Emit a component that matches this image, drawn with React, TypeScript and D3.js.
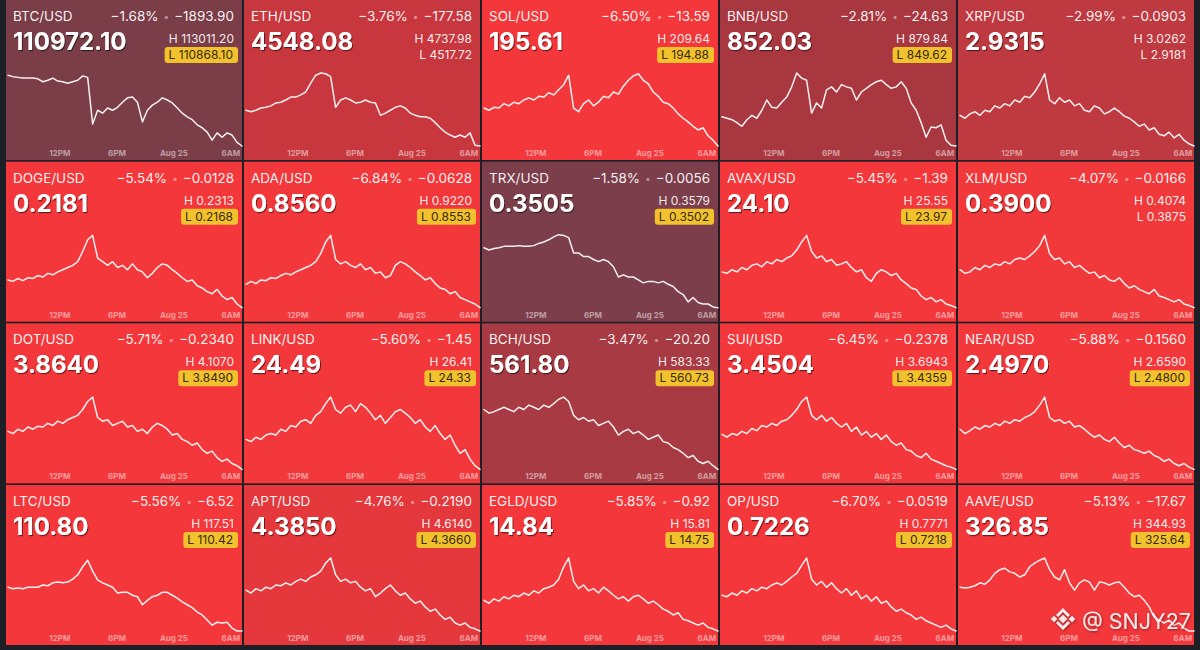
import React from "react";
import * as d3 from "d3";

// ---- tile data ----
const symbols = ["BTC/USD", "ETH/USD", "SOL/USD", "BNB/USD", "XRP/USD", "DOGE/USD", "ADA/USD", "TRX/USD", "AVAX/USD", "XLM/USD", "DOT/USD", "LINK/USD", "BCH/USD", "SUI/USD", "NEAR/USD", "LTC/USD", "APT/USD", "EGLD/USD", "OP/USD", "AAVE/USD"];
const lastPrices = [110972.1, 4548.08, 195.61, 852.03, 2.9315, 0.2181, 0.856, 0.3505, 24.1, 0.39, 3.864, 24.49, 561.8, 3.4504, 2.497, 110.8, 4.385, 14.84, 0.7226, 326.85];
const changePcts = [-1.68, -3.76, -6.5, -2.81, -2.99, -5.54, -6.84, -1.58, -5.45, -4.07, -5.71, -5.6, -3.47, -6.45, -5.88, -5.56, -4.76, -5.85, -6.7, -5.13];
const changeAbs = [-1893.9, -177.58, -13.59, -24.63, -0.0903, -0.0128, -0.0628, -0.0056, -1.39, -0.0166, -0.234, -1.45, -20.2, -0.2378, -0.156, -6.52, -0.219, -0.92, -0.0519, -17.67];
const highs = [113011.2, 4737.98, 209.64, 879.84, 3.0262, 0.2313, 0.922, 0.3579, 25.55, 0.4074, 4.107, 26.41, 583.33, 3.6943, 2.659, 117.51, 4.614, 15.81, 0.7771, 344.93];
const lows = [110868.1, 4517.72, 194.88, 849.62, 2.9181, 0.2168, 0.8553, 0.3502, 23.97, 0.3875, 3.849, 24.33, 560.73, 3.4359, 2.48, 110.42, 4.366, 14.75, 0.7218, 325.64];
const decimals = [2, 2, 2, 2, 4, 4, 4, 4, 2, 4, 4, 2, 2, 4, 4, 2, 4, 2, 4, 2];
const lowFlagged = [true, false, true, true, false, true, true, true, true, false, true, true, true, true, true, true, true, true, true, true];

// ---- time axis ----
const windowStart = "2025-08-24T06:32:00";
const windowEnd = "2025-08-25T07:10:00";
const tickTimes = ["2025-08-24T12:00:00", "2025-08-24T18:00:00", "2025-08-25T00:00:00", "2025-08-25T06:00:00"];
const tickLabels = ["12PM", "6PM", "Aug 25", "6AM"];

// ---- sparklines: position of price inside the 24h low..high range (%) ----
const btcRange = [97, 95, 94, 93, 93, 93, 92, 88, 90, 93, 89, 88, 86, 88, 90, 96, 94, 30, 49, 45, 52, 49, 53, 60, 66, 67, 60, 33, 49, 56, 60, 66, 63, 59, 52, 45, 40, 36, 29, 25, 19, 8, 18, 12, 18, 15, 5, 0];
const ethRange = [49, 47, 49, 52, 53, 55, 59, 60, 63, 67, 67, 70, 74, 86, 97, 100, 99, 95, 53, 63, 66, 63, 59, 60, 63, 60, 59, 42, 45, 49, 53, 55, 52, 45, 42, 40, 40, 38, 32, 25, 19, 15, 12, 15, 12, 18, 1, 0];
const solRange = [52, 49, 53, 52, 58, 55, 60, 58, 63, 66, 63, 68, 67, 73, 70, 77, 84, 97, 52, 47, 58, 63, 55, 60, 68, 66, 74, 71, 82, 90, 96, 99, 90, 85, 74, 68, 60, 58, 52, 44, 38, 33, 27, 22, 25, 14, 8, 0];
const bnbRange = [40, 38, 36, 32, 27, 36, 42, 38, 49, 63, 53, 52, 60, 67, 81, 100, 93, 90, 45, 59, 52, 77, 81, 74, 84, 81, 79, 63, 74, 79, 84, 88, 90, 84, 79, 81, 88, 79, 59, 49, 32, 12, 26, 25, 29, 8, 1, 0];
const xrpRange = [42, 38, 44, 47, 42, 49, 47, 55, 52, 58, 55, 63, 60, 68, 66, 74, 85, 99, 63, 58, 66, 60, 63, 55, 58, 49, 47, 55, 52, 44, 47, 52, 47, 41, 38, 33, 27, 30, 22, 25, 16, 14, 19, 11, 16, 8, 3, 0];
const dogeRange = [38, 36, 40, 37, 41, 40, 44, 42, 47, 45, 49, 52, 55, 58, 63, 77, 93, 99, 68, 63, 58, 63, 55, 58, 52, 60, 52, 49, 41, 47, 55, 60, 58, 52, 47, 41, 36, 38, 30, 27, 22, 19, 25, 16, 11, 14, 5, 0];
const adaRange = [32, 36, 33, 38, 37, 41, 40, 44, 47, 45, 49, 52, 55, 58, 63, 74, 90, 99, 66, 60, 63, 58, 55, 60, 52, 55, 47, 49, 41, 44, 58, 63, 60, 55, 49, 44, 38, 41, 33, 27, 25, 19, 22, 14, 11, 8, 5, 0];
const trxRange = [82, 79, 81, 82, 84, 84, 84, 85, 84, 84, 85, 88, 90, 93, 97, 100, 99, 96, 75, 75, 70, 70, 66, 63, 66, 63, 56, 42, 45, 42, 42, 38, 34, 36, 36, 34, 36, 32, 29, 22, 18, 8, 14, 7, 5, 5, 1, 0];
const avaxRange = [49, 47, 52, 49, 55, 52, 58, 60, 56, 63, 60, 66, 63, 68, 71, 79, 90, 99, 77, 68, 71, 63, 66, 58, 60, 63, 55, 49, 52, 41, 36, 47, 52, 49, 44, 47, 38, 33, 27, 25, 16, 11, 14, 8, 11, 5, 3, 0];
const xlmRange = [52, 47, 49, 55, 52, 58, 55, 60, 58, 63, 60, 66, 68, 66, 71, 77, 85, 99, 74, 66, 68, 60, 63, 55, 58, 52, 47, 49, 41, 44, 38, 36, 41, 33, 27, 30, 25, 22, 19, 25, 16, 14, 11, 8, 11, 5, 3, 0];
const dotRange = [52, 49, 55, 52, 58, 55, 59, 58, 63, 60, 66, 63, 68, 71, 74, 82, 93, 99, 71, 66, 68, 60, 63, 66, 58, 60, 52, 55, 49, 58, 63, 60, 55, 47, 49, 41, 38, 33, 36, 27, 22, 25, 16, 11, 14, 8, 5, 0];
const linkRange = [41, 38, 44, 41, 47, 49, 47, 55, 52, 60, 58, 66, 68, 63, 74, 79, 90, 99, 82, 77, 85, 88, 79, 90, 85, 77, 68, 74, 63, 71, 79, 82, 77, 71, 63, 68, 58, 52, 60, 49, 41, 47, 33, 22, 27, 14, 5, 0];
const bchRange = [82, 77, 79, 82, 85, 82, 79, 85, 82, 88, 85, 82, 88, 85, 90, 96, 99, 93, 74, 68, 71, 66, 68, 60, 63, 66, 58, 47, 52, 55, 49, 52, 47, 41, 44, 47, 38, 36, 30, 27, 22, 16, 19, 11, 8, 11, 5, 0];
const suiRange = [48, 44, 49, 47, 52, 49, 56, 53, 60, 58, 63, 60, 66, 68, 74, 82, 93, 99, 74, 68, 74, 66, 71, 63, 58, 63, 52, 58, 47, 52, 44, 49, 41, 47, 38, 33, 36, 27, 25, 19, 16, 22, 14, 11, 8, 5, 3, 0];
const nearRange = [55, 49, 53, 58, 55, 60, 58, 63, 60, 66, 63, 68, 66, 71, 74, 79, 88, 99, 71, 66, 68, 63, 66, 58, 60, 55, 49, 44, 47, 41, 38, 44, 36, 30, 33, 27, 25, 22, 25, 19, 16, 11, 14, 8, 5, 8, 3, 0];
const ltcRange = [60, 58, 59, 58, 60, 60, 60, 63, 62, 66, 67, 66, 67, 71, 77, 88, 97, 82, 70, 66, 63, 60, 52, 53, 53, 49, 47, 36, 42, 47, 49, 53, 53, 49, 45, 40, 36, 32, 26, 22, 15, 8, 12, 11, 12, 4, 0, 0];
const aptRange = [56, 52, 58, 55, 60, 58, 63, 62, 66, 63, 68, 71, 68, 74, 77, 82, 93, 100, 77, 68, 71, 66, 68, 60, 55, 58, 47, 52, 58, 63, 55, 49, 52, 44, 38, 41, 33, 27, 30, 22, 16, 19, 11, 8, 11, 5, 3, 0];
const egldRange = [42, 38, 44, 41, 47, 44, 49, 47, 52, 49, 55, 52, 58, 60, 63, 71, 88, 100, 68, 58, 63, 55, 58, 52, 60, 55, 49, 44, 47, 41, 47, 49, 44, 38, 41, 36, 30, 27, 22, 25, 16, 14, 11, 8, 11, 5, 3, 0];
const opRange = [49, 47, 52, 49, 55, 52, 58, 55, 60, 58, 63, 66, 63, 68, 74, 79, 90, 100, 71, 63, 68, 60, 66, 58, 52, 58, 49, 55, 44, 49, 41, 47, 38, 41, 33, 27, 30, 25, 22, 16, 19, 14, 11, 8, 5, 8, 3, 0];
const aaveRange = [60, 59, 60, 62, 66, 64, 70, 79, 84, 86, 81, 79, 74, 77, 88, 93, 97, 100, 84, 74, 70, 84, 66, 56, 66, 70, 67, 56, 67, 66, 63, 66, 67, 60, 52, 47, 49, 42, 33, 19, 15, 11, 15, 8, 11, 4, 0, 0];

const rangeSeries = [btcRange, ethRange, solRange, bnbRange, xrpRange, dogeRange, adaRange, trxRange, avaxRange, xlmRange, dotRange, linkRange, bchRange, suiRange, nearRange, ltcRange, aptRange, egldRange, opRange, aaveRange];

// ---- styles ----
const tileFill: Record<string, string> = {
  "BTC/USD": "#7b3d48", "ETH/USD": "#c8373e", "SOL/USD": "#f4373a", "BNB/USD": "#a9373f", "XRP/USD": "#bf3940",
  "DOGE/USD": "#f4373a", "ADA/USD": "#f3383b", "TRX/USD": "#7c3e4a", "AVAX/USD": "#f4373a", "XLM/USD": "#f1393b",
  "DOT/USD": "#f4373a", "LINK/USD": "#f2383b", "BCH/USD": "#a73a42", "SUI/USD": "#f4373a", "NEAR/USD": "#f3383b",
  "LTC/USD": "#f4373a", "APT/USD": "#e5383c", "EGLD/USD": "#f4373a", "OP/USD": "#f4373a", "AAVE/USD": "#f3373a",
};
const FONT = "Inter, 'Noto Sans', Roboto, sans-serif";

let measureCtx: CanvasRenderingContext2D | null = null;
function textWidth(text: string, font: string) {
  if (!measureCtx) measureCtx = document.createElement("canvas").getContext("2d");
  if (!measureCtx) return text.length * 7;
  measureCtx.font = font;
  return measureCtx.measureText(text).width;
}

export default function App() {
  const W = 1200;
  const H = 650;
  const cols = 5;
  const colStep = 238;
  const tileW = 236;
  const rowStep = 161.67;
  const tileH = 160;
  const originX = 6;

  const t0 = new Date(windowStart);
  const t1 = new Date(windowEnd);
  const x = d3.scaleTime().domain([t0, t1]).range([2, 236]);
  const y = d3.scaleLinear().domain([0, 100]).range([146, 73]);

  const fmtPct = d3.format(".2f");

  return (
    <svg width={W} height={H} style={{ position: "absolute", left: 0, top: 0, display: "block" }} fontFamily={FONT}>
      <defs>
        <filter id="ts" x="-10%" y="-30%" width="130%" height="170%">
          <feDropShadow dx="1" dy="1.2" stdDeviation="0.7" floodColor="#000" floodOpacity="0.55" />
        </filter>
        <filter id="wm" x="-10%" y="-30%" width="130%" height="170%">
          <feDropShadow dx="0.8" dy="1" stdDeviation="0.8" floodColor="#000" floodOpacity="0.5" />
        </filter>
      </defs>
      <rect width={W} height={H} fill="#1d1f26" />
      {symbols.map((sym, k) => {
        const c = k % cols;
        const r = Math.floor(k / cols);
        const x0 = originX + c * colStep;
        const y0 = r * rowStep;
        const series = rangeSeries[k];
        const idxToTime = d3.scaleLinear().domain([0, series.length - 1]).range([t0.getTime(), t1.getTime()]);
        const line = d3
          .line<number>()
          .x((_, i) => x(new Date(idxToTime(i))))
          .y((d) => y(d))
          .curve(d3.curveLinear);
        const dec = decimals[k];
        const fmt = d3.format(`.${dec}f`);
        const lowText = `L ${fmt(lows[k])}`;
        const lowW = textWidth(lowText, `12px ${FONT}`);
        const flagged = lowFlagged[k];
        const rightX = 228;
        return (
          <g key={sym} transform={`translate(${x0},${y0})`}>
            <rect width={tileW} height={tileH} fill={tileFill[sym]} />
            <text x={7} y={21} fontSize={13.5} fill="#fff" fillOpacity={0.95}>
              {sym}
            </text>
            <text x={rightX} y={21} fontSize={13.5} fill="#fff" fillOpacity={0.95} textAnchor="end">
              <tspan>{`${fmtPct(changePcts[k])}%`}</tspan>
              <tspan fillOpacity={0.45} fontSize={10} dy={-1}>{"\u2002•\u2002"}</tspan>
              <tspan dy={1}>{fmt(changeAbs[k])}</tspan>
            </text>
            <text x={7} y={50} fontSize={24} fontWeight={700} fill="#fff" filter="url(#ts)">
              {fmt(lastPrices[k])}
            </text>
            <text x={rightX} y={43} fontSize={12} fill="#fff" fillOpacity={0.92} textAnchor="end">
              {`H ${fmt(highs[k])}`}
            </text>
            {flagged && (
              <rect x={rightX - lowW - 5} y={47} width={lowW + 9} height={16} rx={3} fill="#f1c22e" />
            )}
            <text
              x={rightX - (flagged ? 1 : 0)}
              y={59}
              fontSize={12}
              fill={flagged ? "#3a2a05" : "#fff"}
              fillOpacity={flagged ? 1 : 0.92}
              textAnchor="end"
            >
              {lowText}
            </text>
            <path
              d={line(series) || ""}
              fill="none"
              stroke="#fff"
              strokeOpacity={0.92}
              strokeWidth={1.5}
              strokeLinejoin="round"
              strokeLinecap="round"
            />
            {tickTimes.map((t, i) => (
              <text
                key={t}
                x={x(new Date(t))}
                y={156}
                fontSize={8}
                fontWeight={700}
                fill="#fff"
                fillOpacity={0.5}
                textAnchor="middle"
              >
                {tickLabels[i]}
              </text>
            ))}
          </g>
        );
      })}
      {/* watermark */}
      <g fill="#fff" fillOpacity={0.88} filter="url(#wm)">
        <g transform="translate(1063,619)">
          <rect x={-3} y={-3} width={6} height={6} transform="rotate(45)" />
          <rect x={-2.3} y={-2.3} width={4.6} height={4.6} transform="translate(-9,0) rotate(45)" />
          <rect x={-2.3} y={-2.3} width={4.6} height={4.6} transform="translate(9,0) rotate(45)" />
          <path d="M-7,-4 L0,-11 L7,-4 L5,-2 L0,-7 L-5,-2 Z" />
          <path d="M-7,4 L0,11 L7,4 L5,2 L0,7 L-5,2 Z" />
        </g>
        <text x={1082} y={629} fontSize={21.5} fontFamily={FONT}>
          @ SNJY27
        </text>
      </g>
    </svg>
  );
}
